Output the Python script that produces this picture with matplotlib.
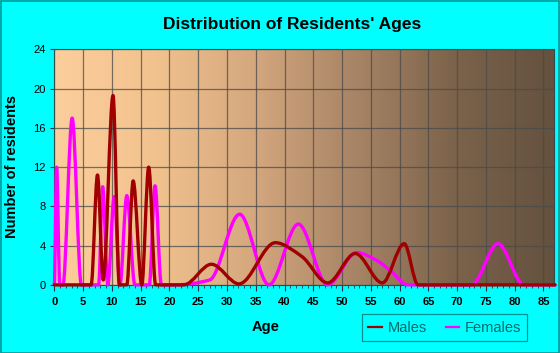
#!/usr/bin/env python3
"""Distribution of residents' ages - smoothed line chart."""

import numpy as np
import matplotlib

matplotlib.use("Agg")
import matplotlib.pyplot as plt
from matplotlib.colors import LinearSegmentedColormap
from matplotlib.lines import Line2D
from matplotlib.patches import PathPatch, Rectangle
from matplotlib.path import Path

# data (age, number of residents)
male_ages = [0, 6.4, 7.5, 8.5, 10.2, 11.3, 12.6, 13.7, 15.2, 16.4, 17.6, 22.5,
             27.3, 32.1, 38.4, 43.0, 47.5, 52.3, 57.0, 60.8, 63.2, 87]
male_counts = [0, 0, 11.2, 0.5, 19.3, 0, 0, 10.6, 0, 12.0, 0, 0,
               2.1, 0.1, 4.3, 2.9, 0.2, 3.2, 0.2, 4.2, 0, 0]

female_ages = [0, 0.4, 0.95, 1.5, 3.1, 4.7, 7.7, 8.4, 9.3, 10.4, 11.4, 12.6, 14.0,
               16.5, 17.5, 18.6, 21.0, 27.0, 32.2, 37.3, 42.4, 47.5, 52.5, 56.0,
               58.3, 61.5, 72.5, 77.1, 81.6, 87]
female_counts = [0, 12.0, 0, 0, 17.0, 0, 0, 10.0, 0, 9.0, 0, 9.1, 0,
                 0, 10.1, 0, 0, 0.5, 7.2, 0, 6.2, 0, 3.3, 2.5,
                 1.5, 0, 0, 4.2, 0, 0]

x_ticks = list(range(0, 90, 5))
y_ticks = [0, 4, 8, 12, 16, 20, 24]


def smooth_path(xs, ys):
    """Bezier path through the points, monotone tangents (no overshoot)."""
    xs = np.asarray(xs, float)
    ys = np.asarray(ys, float)
    h = np.diff(xs)
    d = np.diff(ys) / h
    m = np.zeros_like(ys)
    for i in range(1, len(xs) - 1):
        if d[i - 1] * d[i] > 0:
            w1 = 2 * h[i] + h[i - 1]
            w2 = h[i] + 2 * h[i - 1]
            m[i] = (w1 + w2) / (w1 / d[i - 1] + w2 / d[i])
    verts = [(xs[0], ys[0])]
    codes = [Path.MOVETO]
    for i in range(len(xs) - 1):
        verts += [
            (xs[i] + h[i] / 3, ys[i] + m[i] * h[i] / 3),
            (xs[i + 1] - h[i] / 3, ys[i + 1] - m[i + 1] * h[i] / 3),
            (xs[i + 1], ys[i + 1]),
        ]
        codes += [Path.CURVE4] * 3
    return Path(verts, codes)


plt.rcParams["font.family"] = ["Liberation Sans", "DejaVu Sans"]

fig = plt.figure(figsize=(5.6, 3.53), dpi=100, facecolor="#00ffff")
ax = fig.add_axes([0.097, 0.193, 0.892, 0.667])

x_max = 86.8
ax.set_xlim(0, x_max)
ax.set_ylim(0, 24)

bg = LinearSegmentedColormap.from_list(
    "bg", ["#fcce9c", "#f2c28e", "#d4a77e", "#a88566", "#7c634b", "#64513f"])
ax.imshow(np.linspace(0, 1, 256).reshape(1, -1), cmap=bg, aspect="auto",
          extent=(0, x_max, 0, 24), zorder=0)

ax.set_xticks(x_ticks)
ax.set_xticks(range(0, 87), minor=True)
ax.set_yticks(y_ticks)
ax.grid(True, which="major", color="#4a4a4a", linewidth=0.9, alpha=0.75, zorder=1)

male_color = "#a00000"
female_color = "#ff00ff"
ax.add_patch(PathPatch(smooth_path(female_ages, female_counts), fill=False,
                       edgecolor=female_color, linewidth=2.4, zorder=3,
                       clip_on=False, capstyle="round", joinstyle="round"))
ax.add_patch(PathPatch(smooth_path(male_ages, male_counts), fill=False,
                       edgecolor=male_color, linewidth=2.4, zorder=4,
                       clip_on=False, capstyle="round", joinstyle="round"))

for side in ["top", "right", "left", "bottom"]:
    ax.spines[side].set_color("#2f4f4f")
    ax.spines[side].set_linewidth(0.8)

ax.tick_params(axis="x", which="major", length=4, color="#1a3a4a",
               labelsize=8, pad=5)
ax.tick_params(axis="x", which="minor", length=2.5, color="#1a3a4a")
ax.tick_params(axis="y", length=3, color="#1a3a4a", labelsize=8, pad=3)
for lbl in ax.get_xticklabels():
    lbl.set_fontweight("bold")

fig.text(0.521, 0.93, "Distribution of Residents' Ages", ha="center", va="center",
         fontsize=12.5, fontweight="bold")
fig.text(0.475, 0.073, "Age", ha="center", va="center", fontsize=10.5,
         fontweight="bold")
fig.text(0.022, 0.527, "Number of residents", ha="center", va="center",
         rotation=90, fontsize=10.5, fontweight="bold")

handles = [Line2D([], [], color=male_color, linewidth=1.6),
           Line2D([], [], color=female_color, linewidth=1.6)]
leg = fig.legend(handles, ["Males", "Females"], ncol=2,
                 loc="center", bbox_to_anchor=(0.794, 0.071), fontsize=10.5,
                 handlelength=0.9, handletextpad=0.4, columnspacing=1.3,
                 frameon=True, fancybox=False, borderpad=0.45,
                 labelcolor="#006b6b")
leg.get_frame().set_edgecolor("#007777")
leg.get_frame().set_facecolor("#00ffff")
leg.get_frame().set_linewidth(0.9)

fig.patches.append(Rectangle((0.001, 0.001), 0.997, 0.996, transform=fig.transFigure,
                             fill=False, edgecolor="#009999", linewidth=1.2))

fig.savefig("out.png", dpi=100, facecolor=fig.get_facecolor())
